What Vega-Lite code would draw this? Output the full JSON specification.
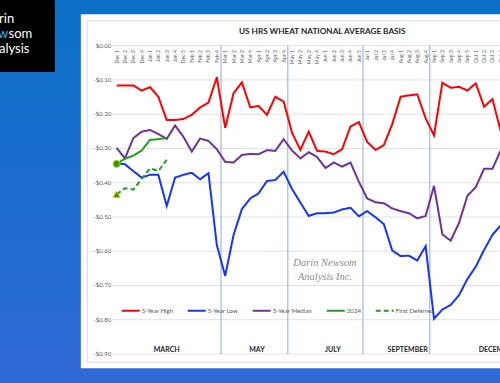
{
  "$schema": "https://vega.github.io/schema/vega-lite/v6.json",
  "width": 388,
  "height": 308.3,
  "autosize": {"type": "none"},
  "padding": {"left": 112, "top": 45.7, "right": 0, "bottom": 29},
  "background": "#2a6bd0",
  "config": {"view": {"stroke": null}, "font": "Lato"},
  "datasets": {
    "weeks": [
      {"i":0,"wk":"Dec 1","high":-0.116,"low":-0.343,"median":-0.298,"y2024":-0.345,"deferred":-0.434},
      {"i":1,"wk":"Dec 2","high":-0.116,"low":-0.346,"median":-0.329,"y2024":-0.330,"deferred":-0.416},
      {"i":2,"wk":"Dec 3","high":-0.116,"low":-0.366,"median":-0.270,"y2024":-0.321,"deferred":-0.420},
      {"i":3,"wk":"Dec 4","high":-0.131,"low":-0.385,"median":-0.251,"y2024":-0.306,"deferred":-0.389},
      {"i":4,"wk":"Jan 1","high":-0.121,"low":-0.377,"median":-0.246,"y2024":-0.275,"deferred":-0.358},
      {"i":5,"wk":"Jan 2","high":-0.149,"low":-0.377,"median":-0.258,"y2024":-0.273,"deferred":-0.366},
      {"i":6,"wk":"Jan 3","high":-0.217,"low":-0.468,"median":-0.272,"y2024":-0.269,"deferred":-0.333},
      {"i":7,"wk":"Jan 4","high":-0.217,"low":-0.385,"median":-0.233},
      {"i":8,"wk":"Dec 5","high":-0.214,"low":-0.377,"median":-0.266},
      {"i":9,"wk":"Feb 1","high":-0.202,"low":-0.371,"median":-0.309},
      {"i":10,"wk":"Feb 2","high":-0.180,"low":-0.390,"median":-0.271},
      {"i":11,"wk":"Feb 3","high":-0.166,"low":-0.372,"median":-0.278},
      {"i":12,"wk":"Feb 4","high":-0.092,"low":-0.582,"median":-0.302},
      {"i":13,"wk":"Mar 1","high":-0.240,"low":-0.672,"median":-0.339},
      {"i":14,"wk":"Mar 2","high":-0.139,"low":-0.553,"median":-0.341},
      {"i":15,"wk":"Mar 3","high":-0.107,"low":-0.477,"median":-0.319},
      {"i":16,"wk":"Mar 4","high":-0.180,"low":-0.446,"median":-0.316},
      {"i":17,"wk":"Apr 1","high":-0.176,"low":-0.431,"median":-0.317},
      {"i":18,"wk":"Apr 2","high":-0.202,"low":-0.395,"median":-0.305},
      {"i":19,"wk":"Apr 3","high":-0.149,"low":-0.392,"median":-0.307},
      {"i":20,"wk":"Apr 4","high":-0.163,"low":-0.368,"median":-0.273},
      {"i":21,"wk":"May 1","high":-0.254,"low":-0.418,"median":-0.306},
      {"i":22,"wk":"May 2","high":-0.304,"low":-0.458,"median":-0.329},
      {"i":23,"wk":"May 3","high":-0.251,"low":-0.497,"median":-0.311},
      {"i":24,"wk":"May 4","high":-0.307,"low":-0.489,"median":-0.325},
      {"i":25,"wk":"Jun 1","high":-0.309,"low":-0.489,"median":-0.357},
      {"i":26,"wk":"Jun 2","high":-0.317,"low":-0.487,"median":-0.341},
      {"i":27,"wk":"Jun 3","high":-0.302,"low":-0.478,"median":-0.353},
      {"i":28,"wk":"Jun 4","high":-0.236,"low":-0.473,"median":-0.341},
      {"i":29,"wk":"Jun 5","high":-0.223,"low":-0.498,"median":-0.397},
      {"i":30,"wk":"Jul 1","high":-0.281,"low":-0.483,"median":-0.446},
      {"i":31,"wk":"Jul 2","high":-0.304,"low":-0.501,"median":-0.457},
      {"i":32,"wk":"Jul 3","high":-0.290,"low":-0.521,"median":-0.460},
      {"i":33,"wk":"Jul 4","high":-0.229,"low":-0.598,"median":-0.475},
      {"i":34,"wk":"Aug 1","high":-0.149,"low":-0.614,"median":-0.483},
      {"i":35,"wk":"Aug 2","high":-0.145,"low":-0.613,"median":-0.489},
      {"i":36,"wk":"Aug 3","high":-0.142,"low":-0.627,"median":-0.504},
      {"i":37,"wk":"Aug 4","high":-0.212,"low":-0.585,"median":-0.497},
      {"i":38,"wk":"Sep 1","high":-0.262,"low":-0.797,"median":-0.409},
      {"i":39,"wk":"Sep 2","high":-0.108,"low":-0.770,"median":-0.551},
      {"i":40,"wk":"Sep 3","high":-0.123,"low":-0.757,"median":-0.569},
      {"i":41,"wk":"Sep 4","high":-0.120,"low":-0.728,"median":-0.517},
      {"i":42,"wk":"Sep 5","high":-0.131,"low":-0.681,"median":-0.438},
      {"i":43,"wk":"Oct 1","high":-0.110,"low":-0.645,"median":-0.413},
      {"i":44,"wk":"Oct 2","high":-0.178,"low":-0.596,"median":-0.359},
      {"i":45,"wk":"Oct 3","high":-0.156,"low":-0.552,"median":-0.359},
      {"i":46,"wk":"Oct 4","high":-0.251,"low":-0.524,"median":-0.305}
    ],
    "grid": [
      {"g":0,"lab":"$0.00"},{"g":-0.1,"lab":"-$0.10"},{"g":-0.2,"lab":"-$0.20"},{"g":-0.3,"lab":"-$0.30"},{"g":-0.4,"lab":"-$0.40"},
      {"g":-0.5,"lab":"-$0.50"},{"g":-0.6,"lab":"-$0.60"},{"g":-0.7,"lab":"-$0.70"},{"g":-0.8,"lab":"-$0.80"},{"g":-0.9,"lab":"-$0.90"}
    ],
    "seps": [{"b":12.5},{"b":20.5},{"b":29.5},{"b":37.5}],
    "contracts": [
      {"name":"MARCH","c":6.0},
      {"name":"MAY","c":16.8},
      {"name":"JULY","c":25.9},
      {"name":"SEPTEMBER","c":34.85},
      {"name":"DECEMBER","c":45.6}
    ]
  },
  "layer": [
    {
      "data": {"values": [{}]},
      "mark": {"type": "rect", "color": {"gradient": "linear", "x1": 0, "y1": 0, "x2": 0, "y2": 1, "stops": [{"offset": 0, "color": "#0a70c6"}, {"offset": 1, "color": "#316ad7"}]}},
      "encoding": {
        "x": {"datum": -16.5, "type": "quantitative", "axis": null},
        "x2": {"datum": 48},
        "y": {"datum": 0.15, "type": "quantitative", "axis": null},
        "y2": {"datum": -1.0}
      }
    },
    {
      "data": {"values": [{}]},
      "mark": {"type": "rect", "color": "#000000"},
      "encoding": {
        "x": {"datum": -16.5, "type": "quantitative", "axis": null},
        "x2": {"datum": -7.39},
        "y": {"datum": 0.15, "type": "quantitative", "axis": null},
        "y2": {"datum": -0.0768}
      }
    },
    {
      "data": {"values": [{}]},
      "mark": {"type": "text", "text": "Darin", "color": "#ffffff", "fontSize": 13, "align": "left", "baseline": "alphabetic"},
      "encoding": {
        "x": {"datum": -16.0, "type": "quantitative", "axis": null},
        "y": {"datum": 0.0677, "type": "quantitative", "axis": null}
      }
    },
    {
      "data": {"values": [{}]},
      "mark": {"type": "text", "text": "New", "color": "#2ab4ec", "fontSize": 13, "align": "right", "baseline": "alphabetic"},
      "encoding": {
        "x": {"datum": -12.98, "type": "quantitative", "axis": null},
        "y": {"datum": 0.0239, "type": "quantitative", "axis": null}
      }
    },
    {
      "data": {"values": [{}]},
      "mark": {"type": "text", "text": "som", "color": "#ffffff", "fontSize": 13, "align": "left", "baseline": "alphabetic"},
      "encoding": {
        "x": {"datum": -12.93, "type": "quantitative", "axis": null},
        "y": {"datum": 0.0239, "type": "quantitative", "axis": null}
      }
    },
    {
      "data": {"values": [{}]},
      "mark": {"type": "text", "text": "Analysis", "color": "#ffffff", "fontSize": 13, "align": "left", "baseline": "alphabetic"},
      "encoding": {
        "x": {"datum": -16.0, "type": "quantitative", "axis": null},
        "y": {"datum": -0.0213, "type": "quantitative", "axis": null}
      }
    },
    {
      "data": {"values": [{}]},
      "mark": {"type": "rect", "color": "#ffffff"},
      "encoding": {
        "x": {"datum": -4.28, "type": "quantitative", "axis": null},
        "x2": {"datum": 48},
        "y": {"datum": 0.0917, "type": "quantitative", "axis": null},
        "y2": {"datum": -0.9416}
      }
    },
    {
      "data": {"values": [{}]},
      "mark": {"type": "rect", "fill": "#ffffff", "stroke": "#d9d9d9", "strokeWidth": 1},
      "encoding": {
        "x": {"datum": -3.52, "type": "quantitative", "axis": null},
        "x2": {"datum": 48},
        "y": {"datum": 0.073, "type": "quantitative", "axis": null},
        "y2": {"datum": -0.924}
      }
    },
    {
      "data": {"name": "grid"},
      "mark": {"type": "rule", "color": "#d9d9d9", "strokeWidth": 0.8},
      "encoding": {
        "y": {"field": "g", "type": "quantitative", "axis": null}
      }
    },
    {
      "data": {"name": "grid"},
      "mark": {"type": "text", "align": "right", "baseline": "middle", "fontSize": 6, "color": "#595959"},
      "encoding": {
        "x": {"datum": -0.65, "type": "quantitative", "axis": null},
        "y": {"field": "g", "type": "quantitative", "axis": null},
        "text": {"field": "lab"}
      }
    },
    {
      "data": {"name": "seps"},
      "mark": {"type": "rule", "color": "#8faadc", "strokeWidth": 1},
      "encoding": {
        "x": {"field": "b", "type": "quantitative", "axis": null}
      }
    },
    {
      "data": {"values": [{}]},
      "mark": {"type": "text", "text": "Darin Newsom", "font": "Liberation Serif", "fontStyle": "italic", "fontSize": 10.5, "color": "#8c8c8c", "align": "center", "baseline": "middle"},
      "encoding": {
        "x": {"datum": 24.95, "type": "quantitative", "axis": null},
        "y": {"datum": -0.635, "type": "quantitative", "axis": null}
      }
    },
    {
      "data": {"values": [{}]},
      "mark": {"type": "text", "text": "Analysis Inc.", "font": "Liberation Serif", "fontStyle": "italic", "fontSize": 10.5, "color": "#8c8c8c", "align": "center", "baseline": "middle"},
      "encoding": {
        "x": {"datum": 24.95, "type": "quantitative", "axis": null},
        "y": {"datum": -0.676, "type": "quantitative", "axis": null}
      }
    },
    {
      "data": {"name": "contracts"},
      "mark": {"type": "text", "fontWeight": "bold", "fontSize": 7, "color": "#1f1f1f", "align": "center", "baseline": "middle"},
      "encoding": {
        "x": {"field": "c", "type": "quantitative", "axis": null},
        "y": {"datum": -0.889, "type": "quantitative", "axis": null},
        "text": {"field": "name"}
      }
    },
    {
      "data": {"name": "weeks"},
      "mark": {"type": "text", "angle": 270, "align": "right", "baseline": "middle", "dx": -4.3, "fontSize": 5.2, "color": "#595959"},
      "encoding": {
        "x": {"field": "i", "type": "quantitative", "axis": null},
        "y": {"datum": 0, "type": "quantitative", "axis": null},
        "text": {"field": "wk"}
      }
    },
    {
      "data": {"values": [{}]},
      "mark": {"type": "text", "text": "US HRS WHEAT NATIONAL AVERAGE BASIS", "fontWeight": "bold", "fontSize": 8.2, "color": "#1f1f1f", "align": "center", "baseline": "middle"},
      "encoding": {
        "x": {"datum": 24.62, "type": "quantitative", "axis": null},
        "y": {"datum": 0.040, "type": "quantitative", "axis": null}
      }
    },
    {
      "data": {"name": "weeks"},
      "transform": [
        {"fold": ["high", "low", "median", "y2024", "deferred"], "as": ["series", "value"]},
        {"filter": "isValid(datum.value)"}
      ],
      "mark": {"type": "line", "strokeWidth": 2},
      "encoding": {
        "x": {"field": "i", "type": "quantitative", "scale": {"domain": [-0.55, 45.9], "nice": false, "zero": false}, "axis": null},
        "y": {"field": "value", "type": "quantitative", "scale": {"domain": [-0.9, 0], "nice": false, "zero": false}, "axis": null},
        "color": {"field": "series", "type": "nominal",
          "scale": {"domain": ["high", "low", "median", "y2024", "deferred"], "range": ["#ff0000", "#1434ff", "#7030a0", "#1e9e1e", "#1e9e1e"]},
          "legend": {"orient": "none", "legendX": 8.7, "legendY": 255, "direction": "horizontal", "title": null, "labelFontSize": 6.2, "labelColor": "#595959", "labelFont": "Lato", "symbolType": "stroke", "symbolSize": 324, "symbolStrokeWidth": 2, "columnPadding": 10, "labelOffset": 1,
            "labelExpr": "datum.label == 'high' ? '5-Year High' : datum.label == 'low' ? '5-Year Low' : datum.label == 'median' ? '5-Year Median' : datum.label == 'y2024' ? '2024' : 'First Deferred'"}},
        "strokeDash": {"field": "series", "type": "nominal",
          "scale": {"domain": ["high", "low", "median", "y2024", "deferred"], "range": [[1, 0], [1, 0], [1, 0], [1, 0], [5, 3]]},
          "legend": {"orient": "none", "legendX": 8.7, "legendY": 255, "direction": "horizontal", "title": null, "labelFontSize": 6.2, "labelColor": "#595959", "labelFont": "Lato", "symbolType": "stroke", "symbolSize": 324, "symbolStrokeWidth": 2, "columnPadding": 10, "labelOffset": 1,
            "labelExpr": "datum.label == 'high' ? '5-Year High' : datum.label == 'low' ? '5-Year Low' : datum.label == 'median' ? '5-Year Median' : datum.label == 'y2024' ? '2024' : 'First Deferred'"}}
      }
    },
    {
      "data": {"name": "weeks"},
      "transform": [
        {"fold": ["y2024", "deferred"], "as": ["series", "value"]},
        {"filter": "datum.i == 0"}
      ],
      "mark": {"type": "point", "filled": true, "fill": "#1e9e1e", "stroke": "#e8c000", "strokeWidth": 1, "opacity": 1, "size": 50},
      "encoding": {
        "x": {"field": "i", "type": "quantitative", "axis": null},
        "y": {"field": "value", "type": "quantitative", "axis": null},
        "shape": {"field": "series", "type": "nominal", "scale": {"domain": ["y2024", "deferred"], "range": ["circle", "triangle-up"]}, "legend": null}
      }
    }
  ]
}
